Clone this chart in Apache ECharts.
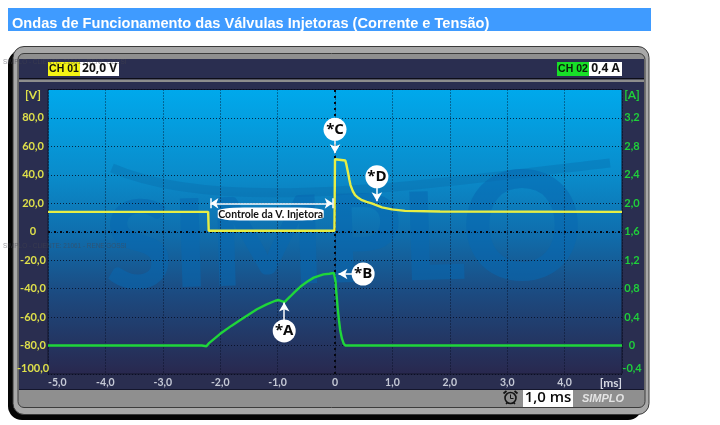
<!DOCTYPE html>
<html>
<head>
<meta charset="utf-8">
<style>html,body{margin:0;padding:0;background:#fff}#c{width:720px;height:425px}</style>
<script src="https://cdn.jsdelivr.net/npm/echarts@6/dist/echarts.min.js"></script>
</head>
<body>
<div id="c"></div>
<script>
// Injector waveforms: voltage on the left axis, current on the right axis.
const voltageTime = [-5, -2.21, -2.2, -0.01, 0, 0.18, 0.2, 0.23, 0.25, 0.27, 0.31, 0.35, 0.41, 0.47, 0.55, 0.64, 0.82, 0.99, 1.22, 1.83, 5];
const voltageValues = [14, 14, 0.7, 0.7, 51, 50.1, 47, 41, 36.5, 32.8, 28.6, 25.8, 23.7, 22.2, 21, 19.9, 17.1, 15.7, 14.7, 14.2, 14];
const currentTime = [-5, -2.32, -2.24, -2.2, -2.0, -1.8, -1.65, -1.36, -1.2, -1.04, -0.98, -0.88, -0.78, -0.7, -0.6, -0.48, -0.37, -0.28, -0.2, -0.1, -0.02, 0, 0.01, 0.02, 0.05, 0.07, 0.09, 0.12, 0.15, 0.18, 5];
const currentValues = [0, 0, -0.01, 0.03, 0.165, 0.28, 0.36, 0.51, 0.575, 0.63, 0.64, 0.61, 0.69, 0.755, 0.83, 0.9, 0.955, 0.98, 1.0, 1.01, 1.02, 1.02, 0.9, 0.78, 0.5, 0.35, 0.22, 0.1, 0.03, 0, 0];

// Callouts in axis units: badge position and arrow tip (time in ms, level in V).
const calloutNames = ['*A', '*B', '*C', '*D'];
const calloutAt = [[-0.885, -69.7], [0.49, -29.7], [0, 72], [0.73, 38.6]];
const calloutTip = [[-0.885, -49.8], [0.06, -29.7], [0, 55.2], [0.73, 21.5]];
const spanStart = -2.17, spanEnd = -0.04, spanLevel = 20;
const spanLabel = 'Controle da V. Injetora';
const spanLabelAt = [-1.12, 12.4];

const titleText = 'Ondas de Funcionamento das Válvulas Injetoras (Corrente e Tensão)';
const channelOne = ['CH 01', '20,0 V'];
const channelTwo = ['CH 02', '0,4 A'];
const timeBase = '1,0 ms';
const clientTag = 'SIMPLO - CLIENTE: 21061 - RENE GOSSI';

const comma = v => v.toFixed(1).replace('.', ',');
const zip = (a, b) => a.map((t, i) => [t, b[i]]);
const FONT = 'Lato';
const NAVY = '#2a2e50';

const box = (x, y, w, h, fill, r, stroke, z) => ({
  type: 'rect', z: z === undefined ? -5 : z, silent: true,
  shape: { x, y, width: w, height: h, r: r || 0 },
  style: { fill, stroke: stroke || null, lineWidth: stroke ? 1 : 0 }
});
const txt = (x, y, text, fill, font, align, z, extra) => ({
  type: 'text', z: z === undefined ? 5 : z, silent: true, x, y,
  style: Object.assign({ text, fill, font, textAlign: align || 'left', textVerticalAlign: 'middle' }, extra || {})
});

const frame = [
  box(8, 8, 643, 23, '#3f9bff', 0),
  // Instrument casing
  box(8, 50, 634, 370, '#050505', 14, null, -9),
  box(13, 46.5, 636, 368, '#a8a8a8', 11, '#3a3a3a', -8),
  box(18, 53.5, 627, 354, '#8f8f8f', 6, '#3c3c3c', -7),
  box(19, 59, 625, 330, NAVY, 0, null, -6),
  box(19, 78, 625, 1.5, '#0d0d18', 0, null, -5),
  box(19, 79.5, 625, 2.5, '#8d8d8d', 0, null, -5),
  box(19, 389, 625, 1, '#14162c', 0, null, -5),
  // Channel readouts
  box(48, 62, 32, 14, '#f4f414', 0, null, 1),
  box(80, 62, 39, 14, '#ffffff', 0, null, 1),
  txt(64, 69.5, channelOne[0], '#15150a', 'bold 10.5px "Liberation Sans"', 'center'),
  txt(99.5, 68.5, channelOne[1], '#111', 'bold 12px "Open Sans"', 'center'),
  box(557, 62, 32, 14, '#18e028', 0, null, 1),
  box(589, 62, 33, 14, '#ffffff', 0, null, 1),
  txt(573, 69.5, channelTwo[0], '#0a200a', 'bold 10.5px "Liberation Sans"', 'center'),
  txt(605.5, 68.5, channelTwo[1], '#111', 'bold 12px "Open Sans"', 'center'),
  // Time base readout, clock and brand mark
  box(523, 390, 50, 17, '#ffffff', 0, null, 1),
  txt(548, 398, timeBase, '#0a0a0a', '600 15px "Open Sans"', 'center'),
  { type: 'circle', z: 5, silent: true, shape: { cx: 510.5, cy: 398, r: 5.5 }, style: { fill: 'none', stroke: '#151515', lineWidth: 1.6 } },
  { type: 'polyline', z: 5, silent: true, shape: { points: [[510.5, 394.5], [510.5, 398.5], [513.5, 398.5]] }, style: { fill: 'none', stroke: '#151515', lineWidth: 1 } },
  { type: 'line', z: 5, silent: true, shape: { x1: 503.5, y1: 393.5, x2: 506.5, y2: 391 }, style: { stroke: '#151515', lineWidth: 1.8 } },
  { type: 'line', z: 5, silent: true, shape: { x1: 517.5, y1: 393.5, x2: 514.5, y2: 391 }, style: { stroke: '#151515', lineWidth: 1.8 } },
  { type: 'line', z: 5, silent: true, shape: { x1: 506, y1: 404, x2: 507.5, y2: 402.5 }, style: { stroke: '#151515', lineWidth: 1.4 } },
  { type: 'line', z: 5, silent: true, shape: { x1: 515, y1: 404, x2: 513.5, y2: 402.5 }, style: { stroke: '#151515', lineWidth: 1.4 } },
  txt(603, 399, 'SIMPLO', '#e4e4e4', 'italic bold 11px "Liberation Sans"', 'center'),
  // Faint brand artwork behind the traces
  { type: 'bezierCurve', z: 0, silent: true, shape: { x1: 112, y1: 168, cpx1: 220, cpy1: 215, cpx2: 420, cpy2: 185, x2: 610, y2: 163 }, style: { fill: 'none', stroke: 'rgba(10,105,170,0.35)', lineWidth: 9 } },
  { type: 'text', z: 0, silent: true, x: 105, y: 250, rotation: 0.03,
    style: { text: 'SIMPL', fill: 'rgba(8,104,176,0.55)', font: '900 122px Lato', textAlign: 'left', textVerticalAlign: 'middle' } },
  { type: 'text', z: 0, silent: true, x: 522, y: 232,
    style: { text: 'O', fill: 'rgba(8,104,176,0.55)', font: '900 150px Lato', textAlign: 'center', textVerticalAlign: 'middle' } },
  // Client tags printed across the image
  txt(3, 62.5, clientTag, 'rgba(70,70,80,0.55)', '6.4px "Liberation Sans"', 'left', 30),
  txt(3, 246.5, clientTag, 'rgba(70,70,80,0.55)', '6.4px "Liberation Sans"', 'left', 30)
];

const arrowLines = calloutNames.map((n, i) => [
  { coord: calloutAt[i], symbol: 'none' },
  { coord: calloutTip[i], symbol: 'arrow', symbolSize: [8, 9] }
]);
const spanLines = [
  [{ coord: [spanStart, spanLevel], symbol: 'arrow', symbolSize: [8, 8] }, { coord: [spanEnd, spanLevel], symbol: 'arrow', symbolSize: [8, 8] }],
  [{ coord: [spanStart, spanLevel - 3.5], symbol: 'none' }, { coord: [spanStart, spanLevel + 3.5], symbol: 'none' }],
  [{ coord: [spanEnd, spanLevel - 3.5], symbol: 'none' }, { coord: [spanEnd, spanLevel + 3.5], symbol: 'none' }]
];

const option = {
  animation: false,
  backgroundColor: '#ffffff',
  title: {
    text: titleText, left: 7, top: 11,
    textStyle: { color: '#fff', fontFamily: 'Liberation Sans', fontWeight: 'bold', fontSize: 14.6 }
  },
  graphic: { elements: frame },
  grid: {
    left: 48, right: 98, top: 89.5, bottom: 51, show: true, borderWidth: 1, borderColor: '#14162c',
    backgroundColor: {
      type: 'linear', x: 0, y: 0, x2: 0, y2: 1,
      colorStops: [
        { offset: 0, color: '#00a9ec' },
        { offset: 0.3, color: '#0a8ccb' },
        { offset: 0.5, color: '#0f6fae' },
        { offset: 0.72, color: '#1c4a80' },
        { offset: 1, color: '#29284e' }
      ]
    }
  },
  xAxis: {
    type: 'value', min: -5, max: 5, interval: 1,
    axisLine: { show: false }, axisTick: { show: false },
    splitLine: { show: true, lineStyle: { color: 'rgba(5,10,30,0.8)', type: [1, 2], width: 1 } },
    axisLabel: {
      color: '#c5c9d6', fontFamily: FONT, fontWeight: 'bold', fontSize: 10.5, margin: 3,
      alignMinLabel: 'left', alignMaxLabel: 'right',
      formatter: v => v === 5 ? '{u|[ms]}' : (v === 0 ? '0' : comma(v)),
      rich: { u: { color: '#d5d8e2', fontFamily: FONT, fontSize: 12, padding: [0, 0, 4, 0] } }
    }
  },
  yAxis: [
    {
      type: 'value', min: -100, max: 100, interval: 20,
      axisLine: { show: false }, axisTick: { show: false },
      splitLine: { show: true, lineStyle: { color: 'rgba(5,10,30,0.8)', type: [1, 2], width: 1 } },
      axisLabel: {
        color: '#dfe04a', fontFamily: FONT, fontWeight: 'bold', fontSize: 11, margin: 15, align: 'center',
        verticalAlignMinLabel: 'bottom', verticalAlignMaxLabel: 'top',
        formatter: v => v === 100 ? '{u|[V]}' : (v === 0 ? '0' : comma(v)),
        rich: { u: { color: '#dfe04a', fontFamily: FONT, fontWeight: 'bold', fontSize: 12 } }
      }
    },
    {
      type: 'value', min: -0.4, max: 3.6, interval: 0.4, position: 'right',
      axisLine: { show: false }, axisTick: { show: false }, splitLine: { show: false },
      axisLabel: {
        color: '#1fd03a', fontFamily: FONT, fontWeight: 'bold', fontSize: 11, margin: 10, align: 'center',
        verticalAlignMinLabel: 'bottom', verticalAlignMaxLabel: 'top',
        formatter: v => Math.abs(v - 3.6) < 1e-6 ? '{u|[A]}' : (Math.abs(v) < 1e-6 ? '0' : comma(v)),
        rich: { u: { color: '#1fd03a', fontFamily: FONT, fontWeight: 'bold', fontSize: 12 } }
      }
    }
  ],
  series: [
    {
      // Zero reference lines for time and voltage
      type: 'line', data: [], z: 1, silent: true,
      markLine: {
        z: 1, silent: true, symbol: 'none', label: { show: false },
        lineStyle: { color: '#05060f', type: [2, 4], width: 2 },
        data: [{ xAxis: 0 }, { yAxis: 0 }]
      }
    },
    {
      name: 'Tensão', type: 'line', yAxisIndex: 0, data: zip(voltageTime, voltageValues), z: 3,
      showSymbol: false, lineStyle: { color: '#e6ee45', width: 2.4 }, itemStyle: { color: '#e6ee45' }
    },
    {
      name: 'Corrente', type: 'line', yAxisIndex: 1, data: zip(currentTime, currentValues), z: 3,
      showSymbol: false, lineStyle: { color: '#1fd63a', width: 2.4 }, itemStyle: { color: '#1fd63a' }
    },
    {
      // Callouts and the control-span bracket
      type: 'line', data: [], z: 6, silent: true,
      markLine: {
        silent: true, label: { show: false }, precision: 4,
        lineStyle: { color: '#ffffff', type: 'solid', width: 1.5, opacity: 1 },
        emphasis: { disabled: true },
        data: arrowLines.concat(spanLines)
      },
      markPoint: {
        silent: true,
        data: calloutNames.map((n, i) => ({
          coord: calloutAt[i], symbol: 'circle', symbolSize: 23,
          itemStyle: { color: '#ffffff' },
          label: { show: true, formatter: n, position: 'inside', color: '#0a0a0a', fontFamily: 'Open Sans', fontWeight: 'bold', fontSize: 15 }
        })).concat([{
          coord: spanLabelAt, symbol: 'roundRect', symbolSize: [106, 13],
          itemStyle: { color: '#ffffff' },
          label: { show: true, formatter: spanLabel, position: 'inside', color: '#111', fontFamily: FONT, fontWeight: 'bold', fontSize: 10.5 }
        }])
      }
    }
  ]
};
echarts.init(document.getElementById('c'), null, { renderer: 'canvas' }).setOption(option);
</script>
</body>
</html>
